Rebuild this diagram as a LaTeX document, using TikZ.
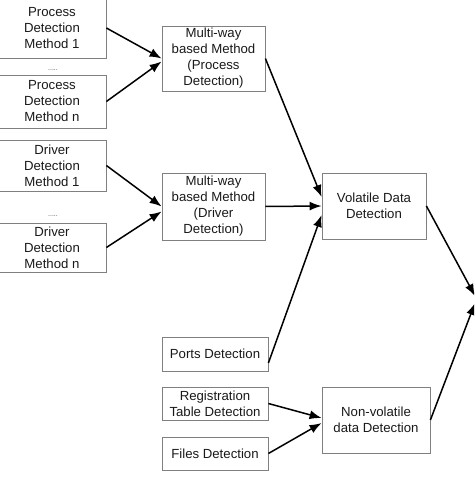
\documentclass[tikz,border=0pt]{standalone}
\usepackage{fontspec}
\setmainfont{Liberation Sans}
\usetikzlibrary{arrows.meta}
\begin{document}
\begin{tikzpicture}[x=1pt,y=-1pt,
  box/.style={draw=black!50, line width=0.8pt, rectangle, inner sep=0pt, align=center,
    text=black!90, font=\fontsize{13.2}{16}\selectfont},
  arr/.style={-{Latex[length=12pt,width=9pt]}, line width=1.5pt, black},
  dots/.style={inner sep=0pt, font=\fontsize{7}{8}\selectfont, text=black!70}]
\clip (0,0) rectangle (474,478);
\useasboundingbox (0,0) rectangle (474,478);
% left column
\node[box, minimum width=108pt, minimum height=60pt] (p1) at (52,28) {Process\\Detection\\Method 1};
\node[dots] (dp) at (53,70) {.....};
\node[box, minimum width=108pt, minimum height=53pt] (p2) at (52,101.5) {Process\\Detection\\Method n};
\node[box, minimum width=108pt, minimum height=51pt] (d1) at (52,165.5) {Driver\\Detection\\Method 1};
\node[dots] (dd) at (53,216) {.....};
\node[box, minimum width=108pt, minimum height=49pt] (d2) at (52,247.5) {Driver\\Detection\\Method n};
% middle column
\node[box, minimum width=103pt, minimum height=65pt] (mw1) at (213.5,58.5) {Multi-way\\based Method\\(Process\\Detection)};
\node[box, minimum width=103pt, minimum height=67pt] (mw2) at (213.5,206.5) {Multi-way\\based Method\\(Driver\\Detection)};
\node[box, minimum width=106pt, minimum height=34pt] (ports) at (215,354) {Ports Detection};
\node[box, minimum width=106pt, minimum height=33pt] (reg) at (215,403.5) {Registration\\Table Detection};
\node[box, minimum width=106pt, minimum height=33pt] (files) at (215,453.5) {Files Detection};
% right column
\node[box, minimum width=104pt, minimum height=66pt] (vol) at (374,206) {Volatile Data\\Detection};
\node[box, minimum width=108pt, minimum height=66pt] (nonvol) at (376,420) {Non-volatile\\data Detection};
\coordinate (out1) at (475,296);
\coordinate (out2) at (475,303);
% connectors
\draw[arr] (p1.east) -- ([yshift=0pt]mw1.west);
\draw[arr] (p2.east) -- ([yshift=-3pt]mw1.west);
\draw[arr] (d1.east) -- ([yshift=0pt]mw2.west);
\draw[arr] (d2.east) -- ([yshift=-5pt]mw2.west);
\draw[arr] (mw1.east) -- ([yshift=9pt]vol.west);
\draw[arr] (mw2.east) -- (vol.west);
\draw[arr] ([yshift=-9pt]ports.east) -- ([yshift=-9pt]vol.west);
\draw[arr] (reg.east) -- ([yshift=2pt]nonvol.west);
\draw[arr] (files.east) -- ([yshift=-3pt]nonvol.west);
\draw[arr] (vol.east) -- (out1);
\draw[arr] (nonvol.east) -- (out2);
\end{tikzpicture}
\end{document}
